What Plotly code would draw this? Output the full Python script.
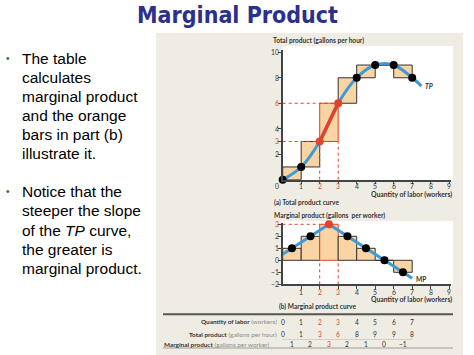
import plotly.graph_objects as go

# ---------------- data ----------------
labor = [0, 1, 2, 3, 4, 5, 6, 7]
total_product = [0, 1, 3, 6, 8, 9, 9, 8]
marginal_product = [1, 2, 3, 2, 1, 0, -1]
# TP curve extension
tp_curve_x = [0, 1, 2, 3, 4, 5, 6, 7, 7.5]
tp_curve_y = [0, 1, 3, 6, 8, 9, 9, 8, 7.35]
# MP curve with its end extensions
mp_curve_x = [0, 0.5, 1.5, 2.5, 3.5, 4.5, 5.5, 6.5, 7]
mp_curve_y = [0.5, 1, 2, 3, 2, 1, 0, -1, -1.5]
x_ticks = [1, 2, 3, 4, 5, 6, 7, 8, 9]
tp_y_ticks = [2, 3, 4, 6, 8, 10]
mp_y_ticks = [-2, -1, 0, 1, 2, 3]
highlight = 2  # the interval from 2 to 3 workers

title = "Marginal Product"
bullet1 = ["The table", "calculates", "marginal product", "and the orange",
           "bars in part (b)", "illustrate it."]
bullet2 = ["Notice that the", "steeper the slope", "of the <i>TP</i> curve,",
           "the greater is", "marginal product."]

# ---------------- styles ----------------
W, H = 474, 355
BEIGE = "#EFEDE3"
ORANGE = "#FAD4A2"
RED = "#E2412C"
BLUE = "#3C9AD6"
DARK = "#333333"
FONT = "Lato"

def X(px):
    return px / W

def Y(py):
    return 1 - py / H

mid = [(a + b) / 2 for a, b in zip(labor[:-1], labor[1:])]

fig = go.Figure()

# ---- top chart (a) ----
bar_line_colors = [RED if i == highlight else DARK for i in range(len(marginal_product))]
fig.add_trace(go.Bar(x=labor[:-1], y=marginal_product, base=total_product[:-1],
                     width=1, offset=0, marker=dict(color=ORANGE,
                     line=dict(color=bar_line_colors, width=1)),
                     xaxis="x", yaxis="y", showlegend=False, hoverinfo="skip"))

a, b = labor[highlight], labor[highlight + 1]
ta, tb = total_product[highlight], total_product[highlight + 1]
fig.add_trace(go.Scatter(x=[0, a, None, 0, b, None, a, a, None, b, b],
                         y=[ta, ta, None, tb, tb, None, 0, ta, None, 0, ta],
                         mode="lines", line=dict(color=RED, width=1, dash="dot"),
                         xaxis="x", yaxis="y", showlegend=False, hoverinfo="skip"))
fig.add_trace(go.Scatter(x=tp_curve_x, y=tp_curve_y, mode="lines",
                         line=dict(color=BLUE, width=3, shape="spline", smoothing=1),
                         xaxis="x", yaxis="y", showlegend=False, hoverinfo="skip"))
fig.add_trace(go.Scatter(x=[a, b], y=[ta, tb], mode="lines",
                         line=dict(color=RED, width=3.5),
                         xaxis="x", yaxis="y", showlegend=False, hoverinfo="skip"))
fig.add_trace(go.Scatter(x=labor, y=total_product, mode="markers", cliponaxis=False,
                         marker=dict(size=8, color=[RED if i in (highlight, highlight + 1) else "black"
                                                    for i in range(len(labor))]),
                         xaxis="x", yaxis="y", showlegend=False, hoverinfo="skip"))

# ---- bottom chart (b) ----
fig.add_trace(go.Bar(x=labor[:-1], y=marginal_product, base=0, width=1, offset=0,
                     marker=dict(color=ORANGE, line=dict(color=bar_line_colors, width=1)),
                     xaxis="x2", yaxis="y2", showlegend=False, hoverinfo="skip"))
mh = marginal_product[highlight]
fig.add_trace(go.Scatter(x=[0, a, None, a, a, None, b, b],
                         y=[mh, mh, None, mp_y_ticks[0], 0, None, mp_y_ticks[0], 0],
                         mode="lines", line=dict(color=RED, width=1, dash="dot"),
                         xaxis="x2", yaxis="y2", showlegend=False, hoverinfo="skip"))
fig.add_trace(go.Scatter(x=mp_curve_x, y=mp_curve_y, mode="lines",
                         line=dict(color=BLUE, width=3),
                         xaxis="x2", yaxis="y2", showlegend=False, hoverinfo="skip"))
fig.add_trace(go.Scatter(x=mid, y=marginal_product, mode="markers", cliponaxis=False,
                         marker=dict(size=8, color=[RED if i == highlight else "black"
                                                    for i in range(len(mid))]),
                         xaxis="x2", yaxis="y2", showlegend=False, hoverinfo="skip"))

# ---------------- axes ----------------
axis_common = dict(showgrid=False, zeroline=False, showline=True, linecolor="#444",
                   linewidth=1.5, ticks="outside", ticklen=2.5, tickcolor="#444",
                   tickwidth=1, showticklabels=False)

x_dom = [X(282.7), X(282.7 + 9.1 * 18.5)]
fig.update_layout(
    xaxis=dict(domain=x_dom, range=[0, 9.1], tickvals=x_ticks, anchor="y", **axis_common),
    yaxis=dict(domain=[Y(179.7), Y(179.7 - 10.15 * 12.74)], range=[0, 10.15],
               tickvals=tp_y_ticks, anchor="x", **axis_common),
    xaxis2=dict(domain=x_dom, range=[0, 9.1], tickvals=x_ticks, anchor="y2", **axis_common),
    yaxis2=dict(domain=[Y(284.3), Y(284.3 - 5.1 * 12)], range=[-2, 3.1],
                tickvals=mp_y_ticks, anchor="x2", **axis_common),
)

# ---------------- shapes ----------------
shapes = [
    dict(type="rect", xref="paper", yref="paper", x0=X(156), x1=X(463), y0=Y(355), y1=Y(33),
         fillcolor=BEIGE, line=dict(width=0), layer="below"),
    dict(type="rect", xref="paper", yref="paper", x0=X(282.7), x1=X(453), y0=Y(179.7), y1=Y(46),
         fillcolor="white", line=dict(width=0), layer="below"),
    dict(type="rect", xref="paper", yref="paper", x0=X(282.7), x1=X(453), y0=Y(284.3), y1=Y(221),
         fillcolor="white", line=dict(width=0), layer="below"),
    dict(type="line", xref="paper", yref="paper", x0=X(163), x1=X(453), y0=Y(314.3), y1=Y(314.3),
         line=dict(color="#555", width=2)),
    dict(type="line", xref="paper", yref="paper", x0=X(163), x1=X(453), y0=Y(348), y1=Y(348),
         line=dict(color="#9a9a9a", width=1)),
    dict(type="line", xref="x2", yref="paper", x0=labor[0], x1=labor[-1], y0=Y(339.5), y1=Y(339.5),
         line=dict(color="#c8c8c8", width=0.8)),
]
for v in labor:
    shapes.append(dict(type="line", xref="x2", yref="paper", x0=v, x1=v, y0=Y(339.5), y1=Y(337.5),
                       line=dict(color="#c8c8c8", width=0.8)))

# ---------------- annotations ----------------
ann = []

def text(px, py, s, size=7, color=DARK, anchor="left", family=FONT, xref="paper", x=None,
         yref="paper", y=None):
    ann.append(dict(xref=xref, yref=yref, x=X(px) if x is None else x,
                    y=Y(py) if y is None else y, text=s, borderpad=0,
                    showarrow=False, xanchor=anchor, yanchor="middle",
                    font=dict(family=family, size=size, color=color)))

text(237, 15, f"<b>{title}</b>", size=23, color="#2B2F8E", anchor="center",
     family="DejaVu Sans Condensed, DejaVu Sans")
for i, line in enumerate(bullet1):
    text(21, 58.3 + 19 * i, line, size=15.5, color="black", family="Liberation Sans, Arial")
for i, line in enumerate(bullet2):
    text(21, 191.7 + 19.15 * i, line, size=15.5, color="black", family="Liberation Sans, Arial")
text(5, 58.3, "•", size=10, color="#2E6B30", family="Liberation Sans")
text(5, 191.7, "•", size=10, color="#2E6B30", family="Liberation Sans")

# tick labels
for v in x_ticks:
    c = RED if v in (a, b) else DARK
    text(0, 185.5, str(v), size=6.8, color=c, anchor="center", xref="x", x=v)
    text(0, 291.8, str(v), size=6.8, color=c, anchor="center", xref="x2", x=v)
text(0, 185.5, "0", size=6.8, anchor="center", xref="x", x=0)
ann[-1]["xshift"] = -6
for v in tp_y_ticks:
    c = RED if v in (ta, tb) else DARK
    text(280, 0, str(v), size=6.8, color=c, anchor="right", yref="y", y=v)
for v in mp_y_ticks:
    c = RED if v == mh else DARK
    text(280, 0, str(v).replace("-", "\u2212"), size=6.8, color=c, anchor="right", yref="y2", y=v)

text(271.7, 41, "<b>Total product (gallons per hour)</b>", size=6.6)
text(424, 86, "<b><i>TP</i></b>", size=6.8)
text(452.7, 194, "<b>Quantity of labor (workers)</b>", size=6.8, anchor="right")
text(273, 202, "<b>(a) Total product curve</b>", size=6.6)
text(273, 215, "<b>Marginal product (gallons  per worker)</b>", size=6.6)
text(415, 279, "<b>MP</b>", size=6.6)
text(452.7, 299, "<b>Quantity of labor (workers)</b>", size=6.8, anchor="right")
text(278, 306.5, "<b>(b) Marginal product curve</b>", size=6.6)

# table
GRAY = "#8a8a8a"
text(278, 321.7, f"<b>Quantity of labor</b> <span style='color:{GRAY}'>(workers)</span>",
     size=6.4, anchor="right")
text(278, 334, f"<b>Total product</b> <span style='color:{GRAY}'>(gallons per hour)</span>",
     size=6.4, anchor="right")
text(163, 344.3, f"<b>Marginal product</b> <span style='color:{GRAY}'>(gallons per worker)</span>",
     size=6.4, anchor="left")
for i, v in enumerate(labor):
    c = RED if i in (highlight, highlight + 1) else DARK
    text(0, 321.7, str(v), size=6.6, color=c, anchor="center", xref="x2", x=v)
    text(0, 334, str(total_product[i]), size=6.6, color=c, anchor="center", xref="x2", x=v)
for i, v in enumerate(marginal_product):
    c = RED if i == highlight else DARK
    text(0, 344.3, str(v).replace("-", "\u2212"), size=6.6, color=c, anchor="center",
         xref="x2", x=mid[i])

fig.update_layout(width=W, height=H, margin=dict(l=0, r=0, t=0, b=0),
                  paper_bgcolor="white", plot_bgcolor="white",
                  shapes=shapes, annotations=ann, barmode="overlay",
                  showlegend=False)

fig.write_html("out.html", config={"displayModeBar": False},
               post_script="document.body.style.margin='0px';document.body.style.overflow='hidden';")
